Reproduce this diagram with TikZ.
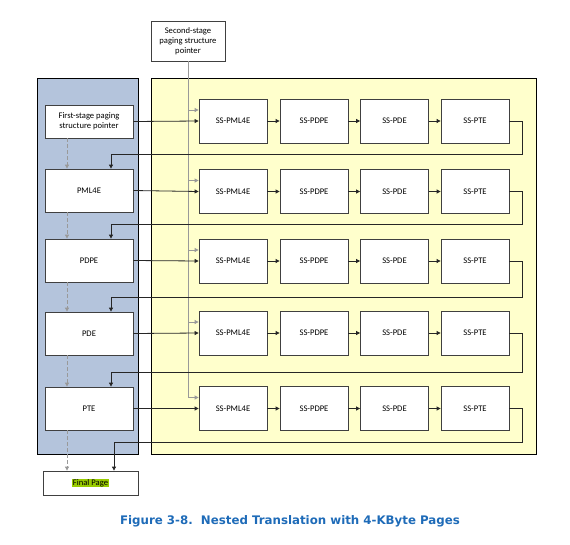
\documentclass[tikz,border=0pt]{standalone}
\usepackage{fontspec}
\setmainfont{Carlito}
\newfontfamily\captionfont{DejaVu Sans}
\usetikzlibrary{positioning,arrows.meta,calc}

\definecolor{panelblue}{HTML}{B4C4DC}
\definecolor{panelyellow}{HTML}{FFFFCC}
\definecolor{hlgreen}{HTML}{99CC00}
\definecolor{capblue}{HTML}{1E6BB8}

\begin{document}
\begin{tikzpicture}[
  x=1pt, y=-1pt,
  box/.style={rectangle, draw=black!75, fill=white, line width=0.8pt, align=center, font=\fontsize{8.6}{10.2}\selectfont, inner sep=1pt},
  lbox/.style={box, minimum width=88pt, minimum height=43pt},
  ssbox/.style={box, minimum width=68pt, minimum height=44pt},
  panel/.style={draw=black, line width=0.8pt},
  arrow/.style={-{Triangle[length=4pt,width=4pt]}, line width=0.8pt, black!85},
  grayarrow/.style={-{Triangle[length=4pt,width=4pt]}, line width=0.8pt, gray!80},
  dasharrow/.style={-{Triangle[length=4pt,width=4pt]}, line width=0.9pt, gray!80, dash pattern=on 4pt off 2pt}
]
\useasboundingbox (0,0) rectangle (570,544);

% Panels
\fill[panelblue] (37,78) rectangle (138,454);
\draw[panel] (37,78) rectangle (138,454);
\fill[panelyellow] (151,78) rectangle (536,454);
\draw[panel] (151,78) rectangle (536,454);

% Second-stage pointer
\node[box, minimum width=74pt, minimum height=40pt] (sspointer) at (188,41) {Second-stage\\paging structure\\pointer};

% Left column (first stage)
\node[lbox, minimum height=33pt] (fsp) at (89,121.5) {First-stage paging\\structure pointer};
\node[lbox] (pml4e) at (89,190.5) {PML4E};
\node[lbox] (pdpe) at (89,260.5) {PDPE};
\node[lbox] (pde) at (89,333.5) {PDE};
\node[lbox] (pte) at (89,408.5) {PTE};
\node[box, minimum width=95pt, minimum height=24pt] (final) at (90.5,483) {{\setlength\fboxsep{0.6pt}\colorbox{hlgreen}{Final Page}}};

% Second-stage rows
\foreach \i/\y in {1/121, 2/191.5, 3/261, 4/333, 5/408.5} {
  \node[ssbox] (ssa\i) at (233,\y) {SS-PML4E};
  \node[ssbox] (ssb\i) at (314,\y) {SS-PDPE};
  \node[ssbox] (ssc\i) at (394.5,\y) {SS-PDE};
  \node[ssbox] (ssd\i) at (475,\y) {SS-PTE};
  \draw[arrow] (ssa\i) -- (ssb\i);
  \draw[arrow] (ssb\i) -- (ssc\i);
  \draw[arrow] (ssc\i) -- (ssd\i);
  \coordinate (gin\i) at ($(ssa\i.west)+(0,-11)$);
  \draw[grayarrow] (sspointer.south |- gin\i) -- (gin\i);
}

% Second-stage pointer line
\draw[line width=0.8pt, gray!80] (sspointer.south) -- (sspointer.south |- gin5);

% First stage into second stage
\draw[arrow] (fsp.east) -- (ssa1.west);
\draw[arrow] (pml4e.east) -- (ssa2.west);
\draw[arrow] (pdpe.east) -- (ssa3.west);
\draw[arrow] (pde.east) -- (ssa4.west);
\draw[arrow] (pte.east) -- (ssa5.west);

% Results back to first stage
\foreach \a/\b/\dy/\dx in {1/pml4e/-14/22, 2/pdpe/-14/22, 3/pde/-14/22, 4/pte/-14/22, 5/final/-28/23.5}
  \draw[arrow] (ssd\a.east) -- ++(13,0) |- ($(\b.north)+(\dx,\dy)$) -- ($(\b.north)+(\dx,0)$);

% First stage walk
\draw[dasharrow] ([xshift=-22pt]fsp.south) -- ([xshift=-22pt]pml4e.north);
\draw[dasharrow] ([xshift=-22pt]pml4e.south) -- ([xshift=-22pt]pdpe.north);
\draw[dasharrow] ([xshift=-22pt]pdpe.south) -- ([xshift=-22pt]pde.north);
\draw[dasharrow] ([xshift=-22pt]pde.south) -- ([xshift=-22pt]pte.north);
\draw[dasharrow] ([xshift=-22pt]pte.south) -- ([xshift=-23.5pt]final.north);

% Caption
\node[font=\captionfont\bfseries\fontsize{11.8}{14}\selectfont, text=capblue] (caption) at (290,521) {Figure 3-8.\ \ Nested Translation with 4-KByte Pages};

\end{tikzpicture}
\end{document}
